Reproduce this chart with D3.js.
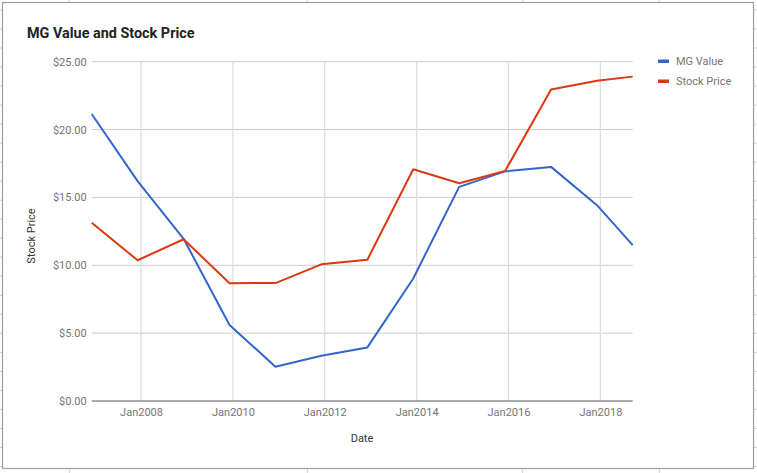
<!DOCTYPE html>
<html>
<head>
<meta charset="utf-8">
<script src="https://cdn.jsdelivr.net/npm/d3@7"></script>
<style>
  body { margin: 0; background: #fff; }
  text { font-family: Roboto, "Noto Sans", sans-serif; }
</style>
</head>
<body>
<script>
// data
var dates = ["2006-12-05", "2007-12-05", "2008-12-05", "2009-12-05", "2010-12-05", "2011-12-05",
             "2012-12-05", "2013-12-05", "2014-12-05", "2015-12-05", "2016-12-05", "2017-12-05", "2018-09-15"];
var mgValue = [21.15, 16.2, 11.95, 5.6, 2.53, 3.34, 3.95, 9.03, 15.78, 16.92, 17.25, 14.43, 11.49];
var stockPrice = [13.13, 10.37, 11.92, 8.68, 8.69, 10.07, 10.41, 17.08, 16.05, 16.94, 22.95, 23.59, 23.9];
var yTicks = [0, 5, 10, 15, 20, 25];
var seriesNames = ["MG Value", "Stock Price"];
var seriesColors = ["#3366cc", "#dc3912"];

function init(){
    var w = 757;
    var h = 473;
    var left = 91.7, right = 632.7, top = 61.7, bottom = 401;

    var parse = d3.timeParse("%Y-%m-%d");
    var xDates = dates.map(parse);

    var svg = d3.select("body")
                .append("svg")
                .attr("width", w)
                .attr("height", h);

    // spreadsheet cell lines peeking out round the chart frame
    var rowY = d3.range(10, h, 19.02);
    var colX = [69.3, 307.3, 522.7, 659.3];
    svg.selectAll(".rowtickL")
        .data(rowY).enter().append("line")
        .attr("x1", 0).attr("x2", 2)
        .attr("y1", function(d){ return d; }).attr("y2", function(d){ return d; })
        .attr("stroke", "#d0d0d0");
    svg.selectAll(".rowtickR")
        .data(rowY).enter().append("line")
        .attr("x1", 754).attr("x2", w)
        .attr("y1", function(d){ return d; }).attr("y2", function(d){ return d; })
        .attr("stroke", "#d0d0d0");
    svg.selectAll(".coltickT")
        .data(colX).enter().append("line")
        .attr("x1", function(d){ return d; }).attr("x2", function(d){ return d; })
        .attr("y1", 0).attr("y2", 2)
        .attr("stroke", "#d0d0d0");
    svg.selectAll(".coltickB")
        .data(colX).enter().append("line")
        .attr("x1", function(d){ return d; }).attr("x2", function(d){ return d; })
        .attr("y1", 469).attr("y2", h)
        .attr("stroke", "#d0d0d0");

    // chart frame
    svg.append("rect")
        .attr("x", 2.5).attr("y", 2.5)
        .attr("width", 751).attr("height", 466)
        .attr("fill", "#fff")
        .attr("stroke", "#9e9e9e")
        .attr("stroke-width", 1.2);

    var xScale = d3.scaleTime()
                    .domain(d3.extent(xDates))
                    .range([left, right]);

    var yScale = d3.scaleLinear()
                    .domain([0, 25])
                    .range([bottom, top]);

    // horizontal grid
    svg.selectAll(".hgrid")
        .data(yTicks.slice(1)).enter().append("line")
        .attr("x1", left).attr("x2", right)
        .attr("y1", function(d){ return yScale(d); })
        .attr("y2", function(d){ return yScale(d); })
        .attr("stroke", "#cccccc");

    // vertical grid on the date ticks
    var xTicks = xScale.ticks(d3.timeYear.every(2));
    svg.selectAll(".vgrid")
        .data(xTicks).enter().append("line")
        .attr("x1", function(d){ return xScale(d); })
        .attr("x2", function(d){ return xScale(d); })
        .attr("y1", top).attr("y2", bottom)
        .attr("stroke", "#dddddd")
        .attr("stroke-width", 1.3);

    // Y Axis
    var yAxis = d3.axisLeft(yScale)
                  .tickValues(yTicks)
                  .tickSize(0)
                  .tickPadding(5)
                  .tickFormat(function(d){ return "$" + d.toFixed(2); });
    var gy = svg.append("g")
        .attr("transform", "translate(" + left + ",0)")
        .call(yAxis);
    gy.select(".domain").remove();
    gy.selectAll("text")
        .attr("fill", "#757575")
        .style("font-size", "11px")
        .style("font-family", "Roboto");

    // X Axis
    var xAxis = d3.axisBottom(xScale)
                  .tickValues(xTicks)
                  .tickSize(0)
                  .tickPadding(7)
                  .tickFormat(d3.timeFormat("Jan%Y"));
    var gx = svg.append("g")
        .attr("transform", "translate(0," + bottom + ")")
        .call(xAxis);
    gx.select(".domain").remove();
    gx.selectAll("text")
        .attr("fill", "#757575")
        .style("font-size", "11px")
        .style("font-family", "Roboto");

    // baseline
    svg.append("line")
        .attr("x1", left).attr("x2", right)
        .attr("y1", yScale(0)).attr("y2", yScale(0))
        .attr("stroke", "#555555")
        .attr("stroke-width", 1.2);

    // lines
    var series = [mgValue, stockPrice];
    var line = d3.line()
        .x(function(d, i){ return xScale(xDates[i]); })
        .y(function(d){ return yScale(d); });

    svg.selectAll(".series")
        .data(series).enter().append("path")
        .attr("d", line)
        .attr("fill", "none")
        .attr("stroke", function(d, i){ return seriesColors[i]; })
        .attr("stroke-width", 2)
        .attr("stroke-linejoin", "round");

    // title
    svg.append("text")
        .attr("x", 27)
        .attr("y", 38)
        .attr("fill", "#222")
        .style("font-size", "14.4px")
        .style("font-weight", "bold")
        .text("MG Value and Stock Price");

    // legend
    var legend = svg.selectAll(".legend")
        .data(seriesNames).enter().append("g")
        .attr("transform", function(d, i){ return "translate(658," + (61 + i * 20) + ")"; });
    legend.append("rect")
        .attr("x", 0).attr("y", -1.5)
        .attr("width", 11).attr("height", 3.5)
        .attr("fill", function(d, i){ return seriesColors[i]; });
    legend.append("text")
        .attr("x", 18)
        .attr("dy", "0.36em")
        .attr("fill", "#757575")
        .style("font-size", "11px")
        .text(function(d){ return d; });

    // X Axis Label
    svg.append("text")
        .attr("text-anchor", "middle")
        .attr("x", 362)
        .attr("y", 442)
        .attr("fill", "#333")
        .style("font-size", "11px")
        .text("Date");

    // Y Axis Label
    svg.append("text")
        .attr("text-anchor", "middle")
        .attr("transform", "rotate(-90)")
        .attr("x", -236)
        .attr("y", 35)
        .attr("fill", "#333")
        .style("font-size", "11px")
        .text("Stock Price");
}
window.onload = init;
</script>
</body>
</html>
